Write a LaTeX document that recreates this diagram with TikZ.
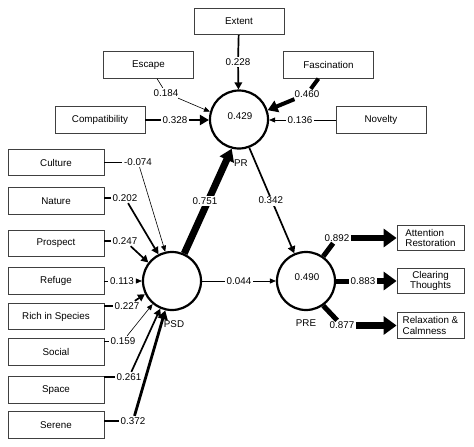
\documentclass[tikz,border=0pt]{standalone}
\usepackage{fontspec}
\setmainfont{Liberation Sans}
\usetikzlibrary{arrows.meta,calc}
\begin{document}
\begin{tikzpicture}[x=1pt,y=-1pt,
  font=\fontsize{9.8}{10.6}\selectfont,
  box/.style={draw=black!75, line width=0.8pt, fill=white, minimum width=90pt, minimum height=26.5pt, inner sep=1pt},
  lbox/.style={box, minimum width=96pt},
  rbox/.style={box, minimum width=67pt, minimum height=25.5pt, align=left},
  lv/.style={draw=black, line width=2.2pt, circle, minimum size=58pt, inner sep=0pt},
  num/.style={fill=white, inner sep=1.5pt},
  tag/.style={inner sep=1pt},
  a1/.style={line width=0.6pt, -{Triangle[length=6pt,width=5pt]}},
  a2/.style={line width=1.7pt, -{Triangle[length=7pt,width=7.5pt]}},
  a3/.style={line width=2.8pt, -{Triangle[length=9pt,width=10pt]}},
  a4/.style={line width=4pt, -{Triangle[length=10pt,width=12pt]}},
  a7/.style={line width=7pt, -{Triangle[length=12pt,width=15pt]}},
  aout/.style={line width=6.5pt, -{Triangle[length=13pt,width=18pt]}},
]
\useasboundingbox (0,0) rectangle (474,447);

% top indicator boxes
\node[box] (Extent) at (239,21.5) {Extent};
\node[box] (Escape) at (148.5,65) {Escape};
\node[box] (Fasc) at (328.5,65) {Fascination};
\node[box] (Compat) at (100,120) {Compatibility};
\node[box] (Novelty) at (381,120) {Novelty};

% left indicator boxes
\node[lbox] (Culture) at (56,162.5) {Culture};
\node[lbox] (Nature) at (56,201) {Nature};
\node[lbox] (Prospect) at (56,243.5) {Prospect};
\node[lbox] (Refuge) at (56,281) {Refuge};
\node[lbox] (Rich) at (56,316.5) {Rich in Species};
\node[lbox] (Social) at (56,352) {Social};
\node[lbox] (Space) at (56,390) {Space};
\node[lbox] (Serene) at (56,425) {Serene};

% right indicator boxes
\node[rbox] (AR) at (430.5,238) {Attention\\Restoration};
\node[rbox, align=center] (CT) at (430.5,281) {Clearing\\Thoughts};
\node[rbox] (RC) at (430.5,325.5) {Relaxation \&\\Calmness};

% latent variables
\node[lv] (PR) at (239,119.5) {};
\node[tag] (PRv) at (240,116) {0.429};
\node[lv] (PSD) at (172,281) {};
\node[tag] (PSDl) at (174,324) {PSD};
\node[lv] (PRE) at (306,281) {};
\node[tag] (PREv) at (307,277) {0.490};
\node[tag] (PREl) at (306,323) {PRE};

% labels of outer paths
\node[num] (l228) at (238,62) {0.228};
\node[num] (l184) at (166,93) {0.184};
\node[num] (l460) at (307,94) {0.460};
\node[num] (l328) at (175,120) {0.328};
\node[num] (l136) at (300,120) {0.136};
\node[num] (l074) at (138,162) {-0.074};
\node[num] (l202) at (125,198) {0.202};
\node[num] (l247) at (125,241) {0.247};
\node[num] (l113) at (122,281) {0.113};
\node[num] (l227) at (127,306) {0.227};
\node[num] (l159) at (123,341) {0.159};
\node[num] (l261) at (129,377) {0.261};
\node[num] (l372) at (133,421) {0.372};
\node[num] (l892) at (337,238) {0.892};
\node[num] (l883) at (363,281) {0.883};
\node[num] (l877) at (342,325.5) {0.877};

% PR indicators
\draw[line width=1.7pt] (Extent) -- (l228);
\draw[a2] (l228) -- (PR);
\draw[line width=0.6pt] (Escape) -- (l184);
\draw[a1] (l184) -- (PR.165);
\draw[line width=4pt] (Fasc) -- (l460);
\draw[a4] (l460) -- (PR.18);
\draw[line width=2.8pt] (Compat) -- (l328);
\draw[a3] (l328) -- (PR.west |- l328);
\draw[line width=0.6pt] (Novelty) -- (l136);
\draw[a1] (l136) -- (PR.east |- l136);

% PSD indicators
\draw[line width=0.6pt] (Culture.east |- l074) -- (l074);
\draw[a1] (l074) -- (PSD.103);
\draw[line width=1.7pt] (Nature.east |- l202) -- (l202);
\draw[a2] (l202) -- (PSD.117);
\draw[line width=1.7pt] (Prospect.east |- l247) -- (l247);
\draw[a2] (l247) -- (PSD.142);
\draw[line width=0.6pt] (Refuge.east |- l113) -- (l113);
\draw[a1] (l113) -- (PSD.180);
\draw[line width=1.5pt] (Rich.east |- l227) -- (l227);
\draw[a2] (l227) -- (PSD.206);
\draw[line width=0.8pt] (Social.east |- l159) -- (l159);
\draw[a1] (l159) -- (PSD.230);
\draw[line width=1.8pt] (Space.east |- l261) -- (l261);
\draw[a2] (l261) -- (PSD.247);
\draw[line width=2.8pt] (Serene.east |- l372) -- (l372);
\draw[a3] (l372) -- (PSD.257);

% structural paths
\draw[a7] (PSD.66) -- (PR.256) node[num, pos=0.5, xshift=-3pt] (l751) {0.751};
\draw[a2] (PR.290) -- (PRE.113) node[num, pos=0.5, xshift=-1pt] (l342) {0.342};
\draw[a1] (PSD) -- (PRE) node[num, pos=0.5] (l044) {0.044};
\node[tag] (PRl) at (241,163) {PR};

% PRE outputs
\draw[line width=5pt] (PRE.55) -- (l892);
\draw[aout] (l892) -- (AR);
\draw[line width=5pt] (PRE) -- (l883);
\draw[aout] (l883) -- (CT);
\draw[line width=5pt] (PRE.-55) -- (l877);
\draw[aout] (l877) -- (RC);
\end{tikzpicture}
\end{document}
